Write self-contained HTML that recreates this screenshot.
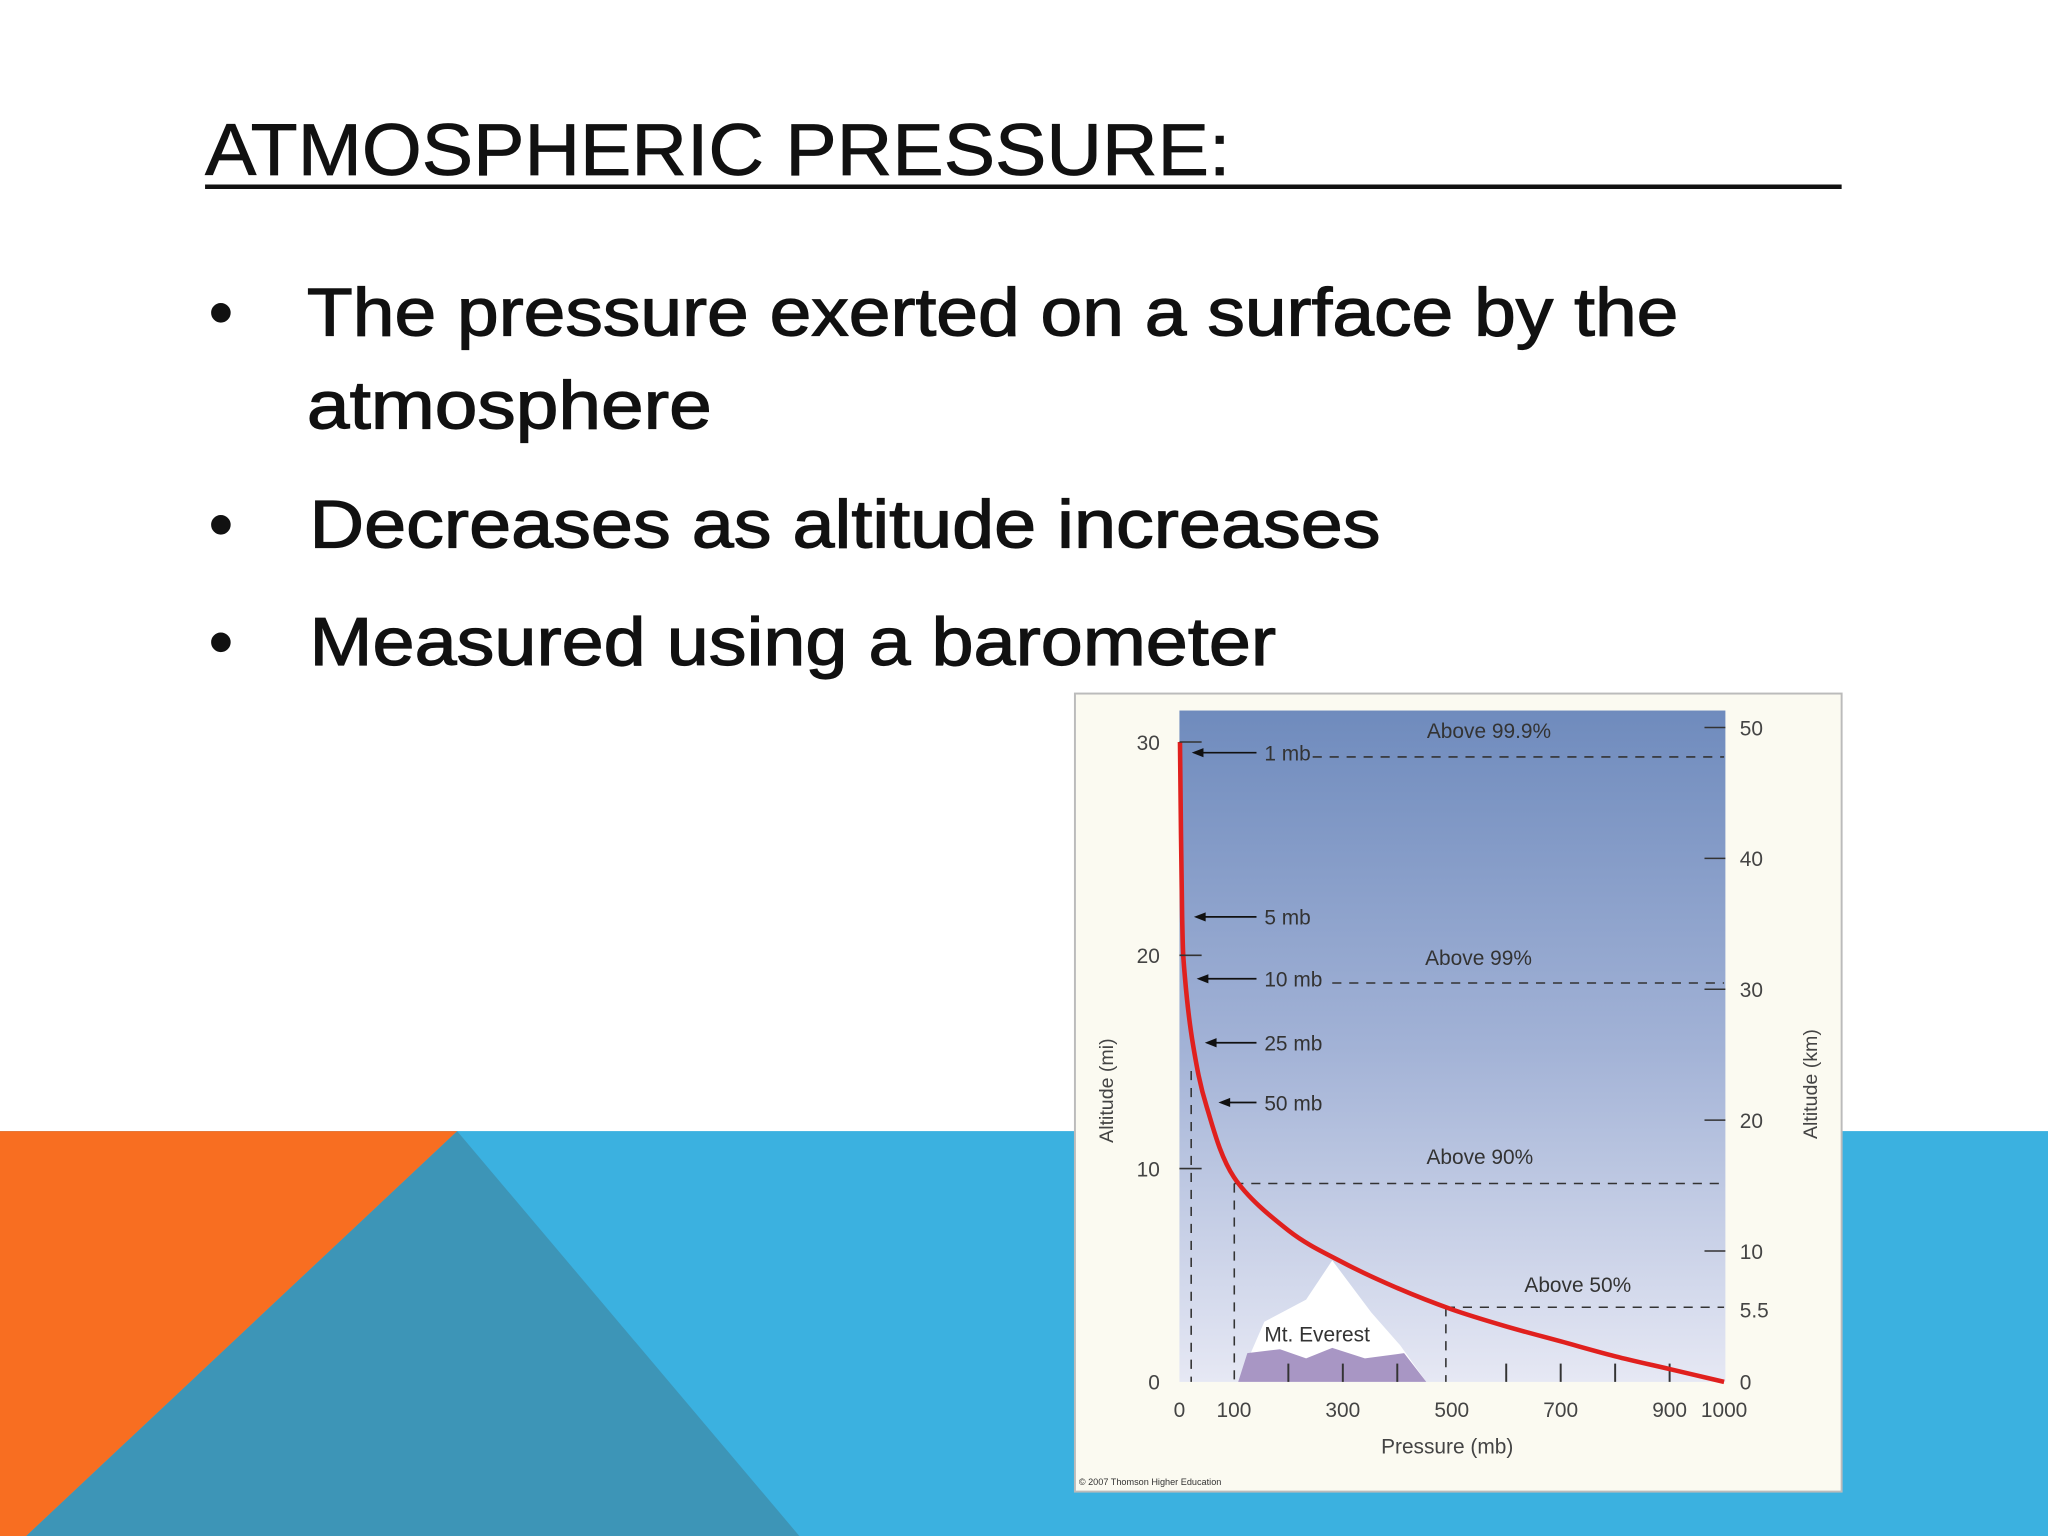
<!DOCTYPE html>
<html><head><meta charset="utf-8"><style>
html,body{margin:0;padding:0;background:#fff}
svg{display:block}
text{font-family:"Liberation Sans",sans-serif}
</style></head><body>
<svg id="root" width="2048" height="1536" viewBox="0 0 1568 1176" xmlns="http://www.w3.org/2000/svg">
<defs>
<linearGradient id="sky" x1="0" y1="0" x2="0" y2="1">
<stop offset="0" stop-color="#6f8bbd"/><stop offset="0.5" stop-color="#a2b2d6"/><stop offset="1" stop-color="#e6e8f4"/>
</linearGradient>
</defs>
<rect x="0" y="866" width="1568" height="310" fill="#3bb1e0"/>
<polygon points="350,866 612,1176 20,1176" fill="#3d95b7"/>
<polygon points="0,866 350,866 20,1176 0,1176" fill="#f86e21"/>
<text x="157" y="134" font-size="56" fill="#111" stroke="#111" stroke-width="0.6" textLength="785" lengthAdjust="spacingAndGlyphs">ATMOSPHERIC PRESSURE:</text>
<line x1="157" y1="143" x2="1410" y2="143" stroke="#111" stroke-width="3.5"/>
<g font-size="52" fill="#111" stroke="#111" stroke-width="0.9">
<text x="160" y="257">•</text><text x="235" y="257" textLength="1050" lengthAdjust="spacingAndGlyphs">The pressure exerted on a surface by the</text>
<text x="235" y="328" textLength="310" lengthAdjust="spacingAndGlyphs">atmosphere</text>
<text x="160" y="419">•</text><text x="237" y="419" textLength="820" lengthAdjust="spacingAndGlyphs">Decreases as altitude increases</text>
<text x="160" y="509">•</text><text x="237" y="509" textLength="740" lengthAdjust="spacingAndGlyphs">Measured using a barometer</text>
</g>
<rect x="823" y="531" width="587" height="611" fill="#fbfaf1" stroke="#bbb" stroke-width="1.5"/>
<rect x="903" y="544" width="418" height="514" fill="url(#sky)"/>
<g id="chart"></g>
<text x="826" y="1137" font-size="7" fill="#333">© 2007 Thomson Higher Education</text>
</svg>
<script>
const pressures=[1000,900,800,700,600,500,400,300,200,100,50,25,10,5,1];
const altitudesMi=[0,0.6,1.2,1.9,2.6,3.4,4.4,5.6,7.1,9.6,12.9,15.8,19.0,21.8,30];
const xTicks=[0,100,300,500,700,900,1000];
const yTicksMi=[0,10,20,30];
const yTicksKm=[0,5.5,10,20,30,40,50];
const arrowLabels=[["1 mb",1,29.5],["5 mb",5,21.8],["10 mb",10,18.9],["25 mb",25,15.9],["50 mb",50,13.1]];
const levels=[["Above 99.9%",29.3,1005,1140,560],["Above 99%",18.7,1020,1132,734],["Above 90%",9.3,945,1133,886],["Above 50%",3.5,1107,1208,984]];
const NS="http://www.w3.org/2000/svg";
const g=document.getElementById('chart');
const X=p=>903+(p/1000)*417;
const Y=m=>1058-m*16.33;
const YK=k=>1058-k*10.02;
function el(t,a,parent){const e=document.createElementNS(NS,t);for(const k in a)e.setAttribute(k,a[k]);(parent||g).appendChild(e);return e;}
let m=el('polygon',{points:"948,1058 968,1012 1000,995 1020,965 1050,1005 1072,1030 1092,1058",fill:"#fff"});


let mb=el('polygon',{points:"948,1058 955,1036 980,1033 1000,1040 1020,1032 1045,1040 1075,1036 1092,1058",fill:"#a896c4"});


let mt=el('text',{x:968,y:1027,'font-size':16,fill:'#333'});mt.textContent="Mt. Everest";


[200,300,400,600,700,800,900].forEach(p=>{const t=el('line',{x1:X(p),x2:X(p),y1:1044,y2:1058,stroke:'#333','stroke-width':1.5});

});
levels.forEach(l=>{const y=Y(l[1]);
const d=el('line',{x1:l[2],x2:1320,y1:y,y2:y,stroke:'#333','stroke-width':1.2,'stroke-dasharray':'7,6'});


const t=el('text',{x:l[3],y:l[4]+5,'font-size':16,fill:'#333','text-anchor':'middle'});t.textContent=l[0];

});
[[945,Y(9.3)],[1107,Y(3.5)],[912,820]].forEach(v=>{const d=el('line',{x1:v[0],x2:v[0],y1:v[1],y2:1058,stroke:'#333','stroke-width':1.2,'stroke-dasharray':'7,6'});

});
// smooth curve (Catmull-Rom)
const P=pressures.map((p,i)=>[X(p),Y(altitudesMi[i])]);
let d="M"+P[0][0]+","+P[0][1];
for(let i=0;i<P.length-1;i++){const p0=P[Math.max(i-1,0)],p1=P[i],p2=P[i+1],p3=P[Math.min(i+2,P.length-1)];
const c1=[p1[0]+(p2[0]-p0[0])/6,p1[1]+(p2[1]-p0[1])/6],c2=[p2[0]-(p3[0]-p1[0])/6,p2[1]-(p3[1]-p1[1])/6];
d+=` C${c1[0]},${c1[1]} ${c2[0]},${c2[1]} ${p2[0]},${p2[1]}`;}
let c=el('path',{d:d,fill:'none',stroke:'#e0201e','stroke-width':3.5,'stroke-linejoin':'round'});


arrowLabels.forEach(a=>{const y=Y(a[2]);const x0=X(a[1])+9;
const ln=el('line',{x1:x0+6,x2:962,y1:y,y2:y,stroke:'#111','stroke-width':1.3});


const h=el('polygon',{points:`${x0},${y} ${x0+9},${y-3.5} ${x0+9},${y+3.5}`,fill:'#111'});


const t=el('text',{x:968,y:y+6,'font-size':16,fill:'#333'});t.textContent=a[0];

});
xTicks.forEach(p=>{const t=el('text',{x:X(p),y:1085,'font-size':16,fill:'#444','text-anchor':'middle'});t.textContent=p;

});
yTicksMi.forEach(v=>{const y=Y(v);
if(v>0){const l=el('line',{x1:903,x2:920,y1:y,y2:y,stroke:'#333','stroke-width':1.2});

}
const t=el('text',{x:888,y:y+6,'font-size':16,fill:'#444','text-anchor':'end'});t.textContent=v;

});
yTicksKm.forEach(v=>{const y=YK(v);
if(v!==0&&v!==5.5){const l=el('line',{x1:1305,x2:1321,y1:y,y2:y,stroke:'#333','stroke-width':1.2});

}
const t=el('text',{x:1332,y:y+6,'font-size':16,fill:'#444'});t.textContent=v;

});
let xt=el('text',{x:1108,y:1113,'font-size':16,fill:'#444','text-anchor':'middle'});xt.textContent="Pressure (mb)";


let yl=el('text',{x:0,y:0,'font-size':15,fill:'#444','text-anchor':'middle',transform:'translate(852,835) rotate(-90)'});yl.textContent="Altitude (mi)";


let yr=el('text',{x:0,y:0,'font-size':15,fill:'#444','text-anchor':'middle',transform:'translate(1391,830) rotate(-90)'});yr.textContent="Altitude (km)";


</script>
</body></html>
